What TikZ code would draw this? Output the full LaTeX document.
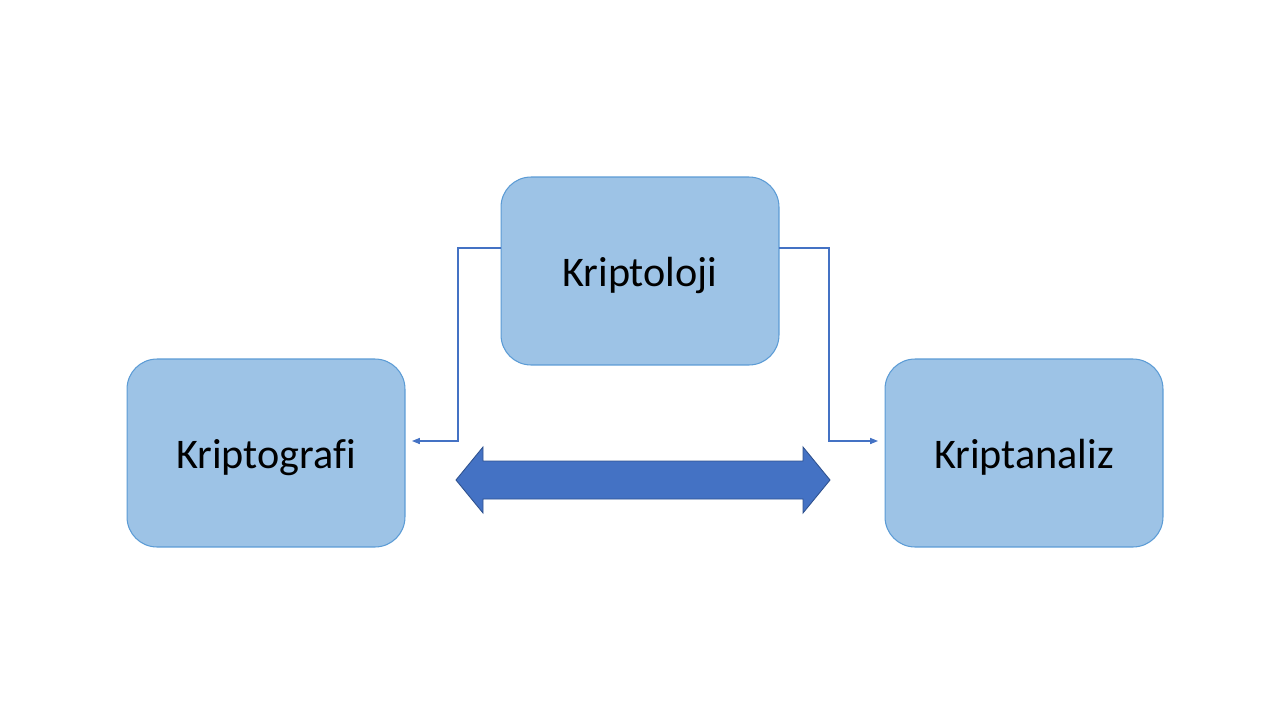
\documentclass[tikz,border=0pt]{standalone}
\usepackage{fontspec}
\setmainfont{Carlito}[Ligatures=NoCommon]
\usetikzlibrary{arrows.meta, positioning}
\definecolor{boxfill}{HTML}{9DC3E6}
\definecolor{boxline}{HTML}{5B9BD5}
\definecolor{linkblue}{HTML}{4472C4}
\definecolor{arrowline}{HTML}{2F528F}

\begin{document}
\begin{tikzpicture}[x=0.02cm, y=-0.02cm,
    box/.style={draw=boxline, fill=boxfill, line width=0.6pt, rounded corners=0.6cm,
        minimum width=5.56cm, minimum height=3.76cm, text height=0.7cm, text depth=0.1cm,
        font=\fontsize{24}{29}\selectfont},
    link/.style={linkblue, line width=0.6pt, -{Triangle[length=4.5pt,width=3.5pt]}}]
    % Canvas
    \useasboundingbox (0,0) rectangle (1280,720);

    % Boxes
    \node[box] (loji) at (640,271) {Kriptoloji};
    \node[box] (grafi) at (266,453) {Kriptografi};
    \node[box] (analiz) at (1024,453) {Kriptanaliz};

    % Elbow connectors
    \coordinate (lout) at (501,248);
    \coordinate (rout) at (779,248);
    \coordinate (lend) at (412,441);
    \coordinate (rend) at (878,441);
    \draw[link] (lout) -| (458,441) -- (lend);
    \draw[link] (rout) -| (829,441) -- (rend);

    % Double arrow
    \fill[linkblue, draw=arrowline, line width=0.5pt]
        (456,480) -- (483,447) -- (483,461) -- (803,461) -- (803,447) -- (830,480)
        -- (803,513) -- (803,499) -- (483,499) -- (483,513) -- cycle;
\end{tikzpicture}
\end{document}
